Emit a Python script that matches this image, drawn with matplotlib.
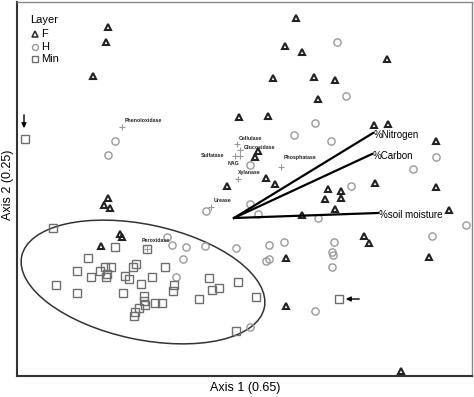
import matplotlib.pyplot as plt
from matplotlib.patches import Ellipse

plt.rcParams['font.family'] = ['Liberation Sans', 'DejaVu Sans']

# ordination scores (screen units)
f_x = [108, 106, 93, 296, 285, 302, 273, 314, 318, 239, 268, 387, 335, 374, 388, 436, 375, 436,
       328, 341, 325, 341, 335, 449, 364, 258, 255, 266, 275, 227, 302, 108, 104, 110, 120, 122,
       101, 369, 429, 286, 286, 401]
f_y = [27, 42, 76, 18, 46, 52, 78, 77, 99, 117, 116, 59, 80, 125, 124, 141, 183, 187,
       189, 191, 199, 198, 209, 210, 236, 151, 157, 178, 184, 186, 215, 198, 205, 208, 234, 237,
       246, 243, 257, 258, 306, 371]

h_x = [315, 337, 346, 294, 331, 436, 413, 351, 318, 466, 432, 250, 206, 250, 258, 115, 108,
       167, 172, 186, 205, 236, 269, 284, 266, 269, 183, 176, 315, 250, 334, 332, 333, 332]
h_y = [123, 42, 96, 135, 141, 157, 169, 186, 218, 225, 236, 165, 211, 204, 214, 141, 155,
       237, 245, 247, 246, 248, 245, 242, 261, 259, 259, 277, 311, 327, 242, 252, 255, 267]

m_x = [25, 53, 115, 147, 88, 77, 100, 105, 111, 107, 106, 91, 125, 129, 136, 133, 141, 152,
       56, 77, 123, 144, 144, 145, 155, 162, 139, 135, 134, 165, 174, 173, 209, 212, 219, 238,
       199, 256, 236, 339]
m_y = [139, 228, 247, 249, 258, 271, 271, 267, 267, 274, 277, 277, 276, 279, 264, 267, 284, 277,
       285, 293, 293, 296, 301, 305, 303, 303, 308, 312, 316, 267, 285, 291, 278, 290, 288, 282,
       299, 297, 331, 299]

enzymes = ['Phenoloxidase', 'Cellulase', 'Glucosidase', 'Sulfatase', 'NAG', 'Phosphatase',
           'Xylanase', 'Urease', 'Peroxidase']
enz_x = [122, 237, 240, 235, 240, 281, 238, 211, 147]
enz_y = [127, 144, 150, 156, 156, 167, 179, 207, 249]
lab_x = [143, 250, 260, 213, 234, 300, 249, 222, 156]
lab_y = [120, 138, 148, 156, 164, 158, 173, 201, 241]

origin = (234, 218)
vec_names = ['%Nitrogen', '%Carbon', '%soil moisture']
vec_x = [373, 372, 378]
vec_y = [133, 154, 213]

fig = plt.figure(figsize=(4.74, 3.97), dpi=100)
ax = fig.add_axes([17 / 474, 21 / 397, 455 / 474, 374 / 397])
ax.set_xlim(17, 472)
ax.set_ylim(376, 2)

ax.plot(h_x, h_y, 'o', ms=5.2, mfc='none', mec='#9a9a9a', mew=1.0, ls='none', label='H')
ax.plot(m_x, m_y, 's', ms=5.2, mfc='none', mec='#6e6e6e', mew=1.0, ls='none', label='Min')
ax.plot(f_x, f_y, '^', ms=4.7, mfc='none', mec='#222222', mew=1.5, ls='none', label='F')

ax.plot(enz_x, enz_y, '+', ms=5, color='#999999', mew=0.8, ls='none')
for i in range(len(enzymes)):
    ax.text(lab_x[i], lab_y[i], enzymes[i], fontsize=3.8, ha='center', va='center',
            color='#222222', fontweight='bold')

for i in range(len(vec_names)):
    ax.plot([origin[0], vec_x[i]], [origin[1], vec_y[i]], color='black', lw=1.6)
    ax.text(vec_x[i] + 1, vec_y[i] + 2, vec_names[i], fontsize=7, ha='left', va='center')

ax.add_patch(Ellipse((143, 282), 248, 115, angle=12, fill=False, ec='#333333', lw=1.1))

ax.annotate('', xy=(24, 131), xytext=(24, 112),
            arrowprops=dict(arrowstyle='-|>', color='black', lw=1, mutation_scale=7))
ax.annotate('', xy=(343, 299), xytext=(362, 299),
            arrowprops=dict(arrowstyle='-|>', color='black', lw=1, mutation_scale=7))

ax.text(30, 20, 'Layer', fontsize=8, ha='left', va='center')
leg_y = [34, 47, 59]
leg_lab = ['F', 'H', 'Min']
ax.plot([35], [leg_y[0]], '^', ms=4, mfc='none', mec='#2a2a2a', mew=1.1)
ax.plot([35], [leg_y[1]], 'o', ms=4.3, mfc='none', mec='#9a9a9a', mew=1.0)
ax.plot([35], [leg_y[2]], 's', ms=4.3, mfc='none', mec='#6e6e6e', mew=1.0)
for yy, t in zip(leg_y, leg_lab):
    ax.text(41, yy, t, fontsize=8, ha='left', va='center')

ax.set_xticks([])
ax.set_yticks([])
for s in ['left', 'bottom']:
    ax.spines[s].set_color('#333333')
    ax.spines[s].set_linewidth(1.5)
for s in ['top', 'right']:
    ax.spines[s].set_color('#888888')
    ax.spines[s].set_linewidth(1.0)

fig.text(245 / 474, 1 - 388 / 397, 'Axis 1 (0.65)', fontsize=9, ha='center', va='center')
fig.text(8 / 474, 1 - 185 / 397, 'Axis 2 (0.25)', fontsize=9, ha='center', va='center', rotation=90)

plt.savefig('out.png', dpi=100)
